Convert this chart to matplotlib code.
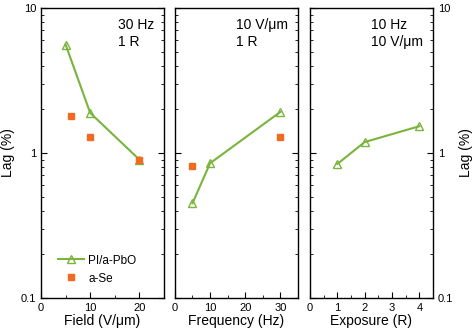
import matplotlib
matplotlib.use('Agg')
import matplotlib.pyplot as plt
from matplotlib.ticker import MultipleLocator, LogLocator, NullFormatter, FixedFormatter, FixedLocator

plt.rcParams['font.family'] = ['Liberation Sans', 'DejaVu Sans']

# panel 1: field dependence
field_pbo = [5, 10, 20]
lag_field_pbo = [5.6, 1.89, 0.9]
field_se = [6, 10, 20]
lag_field_se = [1.8, 1.29, 0.9]

# panel 2: frequency dependence
freq_pbo = [5, 10, 30]
lag_freq_pbo = [0.45, 0.85, 1.92]
freq_se = [5, 30]
lag_freq_se = [0.81, 1.29]

# panel 3: exposure dependence
exp_pbo = [1, 2, 4]
lag_exp_pbo = [0.84, 1.19, 1.53]

green = '#79b43c'
orange = '#f26a21'

fig = plt.figure(figsize=(4.74, 3.33), dpi=100)
bottom, height = 0.105, 0.871
width = 0.2595
ax1 = fig.add_axes([0.0865, bottom, width, height])
ax2 = fig.add_axes([0.369, bottom, width, height])
ax3 = fig.add_axes([0.654, bottom, width, height])


def style(ax, xmax, major, minor):
    ax.set_yscale('log')
    ax.set_ylim(0.1, 10)
    ax.set_xlim(0, xmax)
    ax.xaxis.set_major_locator(MultipleLocator(major))
    ax.xaxis.set_minor_locator(MultipleLocator(minor))
    ax.yaxis.set_major_locator(FixedLocator([0.1, 1, 10]))
    ax.yaxis.set_minor_locator(LogLocator(base=10, subs=range(2, 10)))
    ax.yaxis.set_minor_formatter(NullFormatter())
    ax.tick_params(which='both', direction='in', left=True, right=True, labelsize=8)
    ax.tick_params(which='major', length=4)
    ax.tick_params(which='minor', length=2)
    for s in ax.spines.values():
        s.set_linewidth(1.0)


style(ax1, 25, 10, 5)
style(ax2, 35, 10, 5)
style(ax3, 4.5, 1, 0.5)

ax1.yaxis.set_major_formatter(FixedFormatter(['0.1', '1', '10']))
ax2.tick_params(labelleft=False)
ax3.tick_params(labelleft=False, labelright=True)
ax3.yaxis.set_major_formatter(FixedFormatter(['0.1', '1', '10']))

mk = dict(marker='^', markersize=6, markerfacecolor='none', markeredgecolor=green,
          markeredgewidth=1.0, color=green, linewidth=1.5)
sq = dict(marker='s', markersize=5, color=orange, linestyle='none')

ax1.plot(field_pbo, lag_field_pbo, label='PI/a-PbO', **mk)
ax1.plot(field_se, lag_field_se, label='a-Se', **sq)
ax2.plot(freq_pbo, lag_freq_pbo, **mk)
ax2.plot(freq_se, lag_freq_se, **sq)
ax3.plot(exp_pbo, lag_exp_pbo, **mk)

ax1.legend(loc='lower left', bbox_to_anchor=(0.05, 0.01), frameon=False, fontsize=8.5,
           handlelength=2.2, handletextpad=0.4, labelspacing=0.5)

ax1.set_xlabel('Field (V/\u03bcm)', fontsize=10, labelpad=1)
ax2.set_xlabel('Frequency (Hz)', fontsize=10, labelpad=1)
ax3.set_xlabel('Exposure (R)', fontsize=10, labelpad=1)
ax1.set_ylabel('Lag (%)', fontsize=10)
ax3.yaxis.set_label_position('right')
ax3.set_ylabel('Lag (%)', fontsize=10)

ax1.text(0.63, 0.965, '30 Hz\n1 R', transform=ax1.transAxes, ha='left', va='top',
         fontsize=10, linespacing=1.3)
ax2.text(0.50, 0.965, '10 V/\u03bcm\n1 R', transform=ax2.transAxes, ha='left', va='top',
         fontsize=10, linespacing=1.3)
ax3.text(0.50, 0.965, '10 Hz\n10 V/\u03bcm', transform=ax3.transAxes, ha='left', va='top',
         fontsize=10, linespacing=1.3)

fig.savefig('out.png', dpi=100)
